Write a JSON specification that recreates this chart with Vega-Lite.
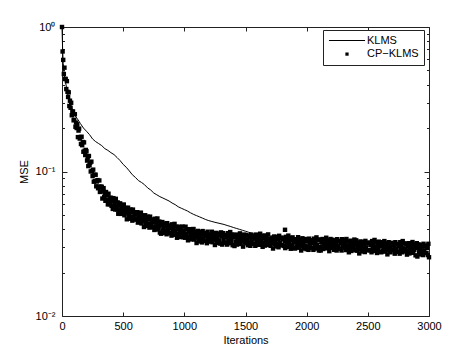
{
  "$schema": "https://vega.github.io/schema/vega-lite/v6.json",
  "width": 367,
  "height": 289,
  "autosize": {"type": "none"},
  "padding": {"left": 62, "top": 27, "right": 45, "bottom": 39},
  "background": "white",
  "config": {
    "view": {"stroke": null},
    "font": "Liberation Sans",
    "axis": {
      "grid": false,
      "domainColor": "#222222",
      "domainWidth": 1,
      "tickColor": "#222222",
      "tickWidth": 1,
      "labelFont": "Liberation Sans",
      "labelFontSize": 11,
      "labelColor": "black",
      "titleFont": "Liberation Sans",
      "titleFontSize": 11,
      "titleFontWeight": "normal",
      "titleColor": "black"
    }
  },
  "datasets": {
    "klms": [
      {"t":0,"v":1.0},{"t":5,"v":0.70},{"t":10,"v":0.56},{"t":15,"v":0.50},{"t":20,"v":0.46},{"t":30,"v":0.41},{"t":45,"v":0.35},{"t":60,"v":0.31},{"t":75,"v":0.28},{"t":100,"v":0.248},{"t":125,"v":0.232},{"t":150,"v":0.215},{"t":175,"v":0.20},{"t":200,"v":0.19},{"t":225,"v":0.18},{"t":250,"v":0.168},{"t":275,"v":0.161},{"t":300,"v":0.156},{"t":325,"v":0.151},{"t":350,"v":0.144},{"t":375,"v":0.14},{"t":400,"v":0.135},{"t":425,"v":0.131},{"t":450,"v":0.125},{"t":475,"v":0.119},{"t":500,"v":0.112},{"t":525,"v":0.107},{"t":550,"v":0.101},{"t":575,"v":0.095},{"t":600,"v":0.091},{"t":625,"v":0.0865},{"t":650,"v":0.084},{"t":675,"v":0.081},{"t":700,"v":0.077},{"t":725,"v":0.0745},{"t":750,"v":0.071},{"t":775,"v":0.069},{"t":800,"v":0.067},{"t":825,"v":0.0655},{"t":850,"v":0.064},{"t":875,"v":0.0625},{"t":900,"v":0.0605},{"t":925,"v":0.059},{"t":950,"v":0.057},{"t":975,"v":0.0557},{"t":1000,"v":0.0545},{"t":1025,"v":0.0533},{"t":1050,"v":0.0518},{"t":1075,"v":0.0505},{"t":1100,"v":0.0495},{"t":1125,"v":0.0485},{"t":1150,"v":0.0475},{"t":1175,"v":0.0465},{"t":1200,"v":0.0457},{"t":1225,"v":0.0451},{"t":1250,"v":0.0445},{"t":1275,"v":0.044},{"t":1300,"v":0.0435},{"t":1325,"v":0.043},{"t":1350,"v":0.0423},{"t":1375,"v":0.0417},{"t":1400,"v":0.041},{"t":1425,"v":0.0404},{"t":1450,"v":0.0398},{"t":1475,"v":0.0392},{"t":1500,"v":0.0386},{"t":1525,"v":0.038},{"t":1550,"v":0.0374},{"t":1575,"v":0.0368},{"t":1600,"v":0.0362},{"t":1625,"v":0.0357},{"t":1650,"v":0.0352},{"t":1675,"v":0.0348},{"t":1700,"v":0.0345},{"t":1750,"v":0.034},{"t":1800,"v":0.0337},{"t":1850,"v":0.0333},{"t":1900,"v":0.033},{"t":1950,"v":0.0327},{"t":2000,"v":0.0324},{"t":2100,"v":0.0318},{"t":2200,"v":0.0314},{"t":2300,"v":0.031},{"t":2400,"v":0.0307},{"t":2500,"v":0.0304},{"t":2600,"v":0.0301},{"t":2700,"v":0.0298},{"t":2800,"v":0.0295},{"t":2900,"v":0.0292},{"t":3000,"v":0.029}
    ],
    "cp": [
      {"t":0,"v":1.0},{"t":5,"v":0.677},{"t":10,"v":0.592},{"t":15,"v":0.473},{"t":20,"v":0.523},{"t":25,"v":0.437},{"t":30,"v":0.437},{"t":35,"v":0.372},{"t":40,"v":0.422},{"t":45,"v":0.356},{"t":50,"v":0.328},{"t":55,"v":0.353},{"t":60,"v":0.284},{"t":65,"v":0.309},{"t":70,"v":0.276},{"t":75,"v":0.299},{"t":80,"v":0.245},{"t":85,"v":0.26},{"t":90,"v":0.26},{"t":95,"v":0.226},{"t":100,"v":0.228},
      {"t":105,"v":0.249},{"t":110,"v":0.204},{"t":115,"v":0.218},{"t":120,"v":0.2},{"t":125,"v":0.212},{"t":130,"v":0.173},{"t":135,"v":0.192},{"t":140,"v":0.198},{"t":145,"v":0.169},{"t":150,"v":0.173},{"t":155,"v":0.155},{"t":160,"v":0.174},{"t":165,"v":0.152},{"t":170,"v":0.16},{"t":175,"v":0.137},{"t":180,"v":0.159},{"t":185,"v":0.139},{"t":190,"v":0.13},{"t":195,"v":0.141},{"t":200,"v":0.138},
      {"t":205,"v":0.119},{"t":210,"v":0.125},{"t":215,"v":0.109},{"t":220,"v":0.128},{"t":225,"v":0.111},{"t":230,"v":0.115},{"t":235,"v":0.1},{"t":240,"v":0.117},{"t":245,"v":0.101},{"t":250,"v":0.093},{"t":255,"v":0.103},{"t":260,"v":0.085},{"t":265,"v":0.095},{"t":270,"v":0.086},{"t":275,"v":0.095},{"t":280,"v":0.079},{"t":285,"v":0.0853},{"t":290,"v":0.0872},{"t":295,"v":0.0766},{"t":300,"v":0.0784},
      {"t":305,"v":0.0867},{"t":310,"v":0.0722},{"t":315,"v":0.0787},{"t":320,"v":0.0729},{"t":325,"v":0.0784},{"t":330,"v":0.065},{"t":335,"v":0.0734},{"t":340,"v":0.0767},{"t":345,"v":0.0665},{"t":350,"v":0.069},{"t":355,"v":0.0627},{"t":360,"v":0.0721},{"t":365,"v":0.0639},{"t":370,"v":0.0684},{"t":375,"v":0.0592},{"t":380,"v":0.0702},{"t":385,"v":0.0625},{"t":390,"v":0.0594},{"t":395,"v":0.0657},{"t":400,"v":0.0657},
      {"t":405,"v":0.0578},{"t":410,"v":0.0622},{"t":415,"v":0.0551},{"t":420,"v":0.0654},{"t":425,"v":0.0577},{"t":430,"v":0.0615},{"t":435,"v":0.0546},{"t":440,"v":0.0647},{"t":445,"v":0.0573},{"t":450,"v":0.0546},{"t":455,"v":0.0611},{"t":460,"v":0.051},{"t":465,"v":0.0581},{"t":470,"v":0.0538},{"t":475,"v":0.0602},{"t":480,"v":0.0509},{"t":485,"v":0.0556},{"t":490,"v":0.0574},{"t":495,"v":0.051},{"t":500,"v":0.0529},
      {"t":505,"v":0.0591},{"t":510,"v":0.0498},{"t":515,"v":0.0548},{"t":520,"v":0.0514},{"t":525,"v":0.0559},{"t":530,"v":0.0467},{"t":535,"v":0.0532},{"t":540,"v":0.0562},{"t":545,"v":0.0491},{"t":550,"v":0.0515},{"t":555,"v":0.0471},{"t":560,"v":0.0546},{"t":565,"v":0.0487},{"t":570,"v":0.0525},{"t":575,"v":0.0457},{"t":580,"v":0.0545},{"t":585,"v":0.0487},{"t":590,"v":0.0465},{"t":595,"v":0.0517},{"t":600,"v":0.0519},
      {"t":605,"v":0.0503},{"t":610,"v":0.0467},{"t":615,"v":0.0523},{"t":620,"v":0.0443},{"t":625,"v":0.0485},{"t":630,"v":0.0502},{"t":635,"v":0.0447},{"t":640,"v":0.0465},{"t":645,"v":0.0519},{"t":650,"v":0.0437},{"t":655,"v":0.0482},{"t":660,"v":0.0453},{"t":665,"v":0.0493},{"t":670,"v":0.0413},{"t":675,"v":0.0471},{"t":680,"v":0.0498},{"t":685,"v":0.0436},{"t":690,"v":0.0458},{"t":695,"v":0.042},{"t":700,"v":0.0487},
      {"t":705,"v":0.0435},{"t":710,"v":0.0469},{"t":715,"v":0.0409},{"t":720,"v":0.0487},{"t":725,"v":0.0436},{"t":730,"v":0.0416},{"t":735,"v":0.0463},{"t":740,"v":0.0465},{"t":745,"v":0.0411},{"t":750,"v":0.0444},{"t":755,"v":0.0394},{"t":760,"v":0.0471},{"t":765,"v":0.0417},{"t":770,"v":0.0446},{"t":775,"v":0.0397},{"t":780,"v":0.0473},{"t":785,"v":0.042},{"t":790,"v":0.0402},{"t":795,"v":0.045},{"t":800,"v":0.0378},
      {"t":805,"v":0.0443},{"t":810,"v":0.0371},{"t":815,"v":0.0423},{"t":820,"v":0.0447},{"t":825,"v":0.0391},{"t":830,"v":0.0411},{"t":835,"v":0.0376},{"t":840,"v":0.0437},{"t":845,"v":0.039},{"t":850,"v":0.0421},{"t":855,"v":0.0368},{"t":860,"v":0.0439},{"t":865,"v":0.0394},{"t":870,"v":0.0377},{"t":875,"v":0.042},{"t":880,"v":0.0423},{"t":885,"v":0.0374},{"t":890,"v":0.0405},{"t":895,"v":0.036},{"t":900,"v":0.0431},
      {"t":905,"v":0.0382},{"t":910,"v":0.0409},{"t":915,"v":0.0365},{"t":920,"v":0.0434},{"t":925,"v":0.0386},{"t":930,"v":0.037},{"t":935,"v":0.0415},{"t":940,"v":0.0348},{"t":945,"v":0.0398},{"t":950,"v":0.037},{"t":955,"v":0.0415},{"t":960,"v":0.0352},{"t":965,"v":0.0386},{"t":970,"v":0.04},{"t":975,"v":0.0357},{"t":980,"v":0.0371},{"t":985,"v":0.0416},{"t":990,"v":0.0351},{"t":995,"v":0.0387},{"t":1000,"v":0.0364},
      {"t":1005,"v":0.0348},{"t":1010,"v":0.0415},{"t":1015,"v":0.0369},{"t":1020,"v":0.0353},{"t":1025,"v":0.0398},{"t":1030,"v":0.0334},{"t":1035,"v":0.0382},{"t":1040,"v":0.0355},{"t":1045,"v":0.0399},{"t":1050,"v":0.0339},{"t":1055,"v":0.0372},{"t":1060,"v":0.0385},{"t":1065,"v":0.0344},{"t":1070,"v":0.0358},{"t":1075,"v":0.04},{"t":1080,"v":0.0338},{"t":1085,"v":0.0373},{"t":1090,"v":0.035},{"t":1095,"v":0.0382},{"t":1100,"v":0.032},
      {"t":1105,"v":0.0366},{"t":1110,"v":0.0388},{"t":1115,"v":0.034},{"t":1120,"v":0.0358},{"t":1125,"v":0.0328},{"t":1130,"v":0.0382},{"t":1135,"v":0.0342},{"t":1140,"v":0.037},{"t":1145,"v":0.0323},{"t":1150,"v":0.0387},{"t":1155,"v":0.0347},{"t":1160,"v":0.0333},{"t":1165,"v":0.0371},{"t":1170,"v":0.0374},{"t":1175,"v":0.0331},{"t":1180,"v":0.0359},{"t":1185,"v":0.0319},{"t":1190,"v":0.0383},{"t":1195,"v":0.034},{"t":1200,"v":0.0364},
      {"t":1205,"v":0.0351},{"t":1210,"v":0.0365},{"t":1215,"v":0.0327},{"t":1220,"v":0.0341},{"t":1225,"v":0.0383},{"t":1230,"v":0.0324},{"t":1235,"v":0.0358},{"t":1240,"v":0.0338},{"t":1245,"v":0.0369},{"t":1250,"v":0.031},{"t":1255,"v":0.0355},{"t":1260,"v":0.0376},{"t":1265,"v":0.0331},{"t":1270,"v":0.0348},{"t":1275,"v":0.032},{"t":1280,"v":0.0372},{"t":1285,"v":0.0334},{"t":1290,"v":0.0362},{"t":1295,"v":0.0317},{"t":1300,"v":0.0379},
      {"t":1305,"v":0.0357},{"t":1310,"v":0.0312},{"t":1315,"v":0.0374},{"t":1320,"v":0.0336},{"t":1325,"v":0.0322},{"t":1330,"v":0.036},{"t":1335,"v":0.0364},{"t":1340,"v":0.0322},{"t":1345,"v":0.035},{"t":1350,"v":0.0312},{"t":1355,"v":0.0374},{"t":1360,"v":0.0333},{"t":1365,"v":0.0357},{"t":1370,"v":0.0319},{"t":1375,"v":0.0381},{"t":1380,"v":0.034},{"t":1385,"v":0.0326},{"t":1390,"v":0.0367},{"t":1395,"v":0.0309},{"t":1400,"v":0.0353},
      {"t":1405,"v":0.0363},{"t":1410,"v":0.0305},{"t":1415,"v":0.0349},{"t":1420,"v":0.0325},{"t":1425,"v":0.0366},{"t":1430,"v":0.0312},{"t":1435,"v":0.0342},{"t":1440,"v":0.0356},{"t":1445,"v":0.0319},{"t":1450,"v":0.0332},{"t":1455,"v":0.0373},{"t":1460,"v":0.0315},{"t":1465,"v":0.0349},{"t":1470,"v":0.0329},{"t":1475,"v":0.0359},{"t":1480,"v":0.0302},{"t":1485,"v":0.0346},{"t":1490,"v":0.0366},{"t":1495,"v":0.0322},{"t":1500,"v":0.0339},
      {"t":1505,"v":0.0363},{"t":1510,"v":0.0319},{"t":1515,"v":0.0336},{"t":1520,"v":0.0309},{"t":1525,"v":0.036},{"t":1530,"v":0.0323},{"t":1535,"v":0.0349},{"t":1540,"v":0.0306},{"t":1545,"v":0.0366},{"t":1550,"v":0.0329},{"t":1555,"v":0.0316},{"t":1560,"v":0.0353},{"t":1565,"v":0.0356},{"t":1570,"v":0.0316},{"t":1575,"v":0.0343},{"t":1580,"v":0.0306},{"t":1585,"v":0.0366},{"t":1590,"v":0.0326},{"t":1595,"v":0.0349},{"t":1600,"v":0.0312},
      {"t":1605,"v":0.0324},{"t":1610,"v":0.0347},{"t":1615,"v":0.0311},{"t":1620,"v":0.0371},{"t":1625,"v":0.0331},{"t":1630,"v":0.0317},{"t":1635,"v":0.0357},{"t":1640,"v":0.0301},{"t":1645,"v":0.0344},{"t":1650,"v":0.0321},{"t":1655,"v":0.0361},{"t":1660,"v":0.0307},{"t":1665,"v":0.0337},{"t":1670,"v":0.0351},{"t":1675,"v":0.0314},{"t":1680,"v":0.0327},{"t":1685,"v":0.0367},{"t":1690,"v":0.0311},{"t":1695,"v":0.0344},{"t":1700,"v":0.0324},
      {"t":1705,"v":0.0306},{"t":1710,"v":0.0339},{"t":1715,"v":0.0319},{"t":1720,"v":0.0349},{"t":1725,"v":0.0293},{"t":1730,"v":0.0336},{"t":1735,"v":0.0355},{"t":1740,"v":0.0313},{"t":1745,"v":0.0329},{"t":1750,"v":0.0303},{"t":1755,"v":0.0352},{"t":1760,"v":0.0316},{"t":1765,"v":0.0342},{"t":1770,"v":0.0299},{"t":1775,"v":0.0359},{"t":1780,"v":0.0322},{"t":1785,"v":0.0309},{"t":1790,"v":0.0345},{"t":1795,"v":0.0349},{"t":1800,"v":0.0309},
      {"t":1805,"v":0.034},{"t":1810,"v":0.0343},{"t":1815,"v":0.0305},{"t":1820,"v":0.033},{"t":1823,"v":0.0395},{"t":1825,"v":0.0295},{"t":1830,"v":0.0353},{"t":1835,"v":0.0314},{"t":1840,"v":0.0337},{"t":1845,"v":0.0301},{"t":1850,"v":0.036},{"t":1855,"v":0.0321},{"t":1860,"v":0.0308},{"t":1865,"v":0.0347},{"t":1870,"v":0.0292},{"t":1875,"v":0.0334},{"t":1880,"v":0.0311},{"t":1885,"v":0.035},{"t":1890,"v":0.0298},{"t":1895,"v":0.0327},{"t":1900,"v":0.034},
      {"t":1905,"v":0.0293},{"t":1910,"v":0.0322},{"t":1915,"v":0.0335},{"t":1920,"v":0.03},{"t":1925,"v":0.0313},{"t":1930,"v":0.0351},{"t":1935,"v":0.0297},{"t":1940,"v":0.0329},{"t":1945,"v":0.0309},{"t":1950,"v":0.0338},{"t":1955,"v":0.0284},{"t":1960,"v":0.0325},{"t":1965,"v":0.0345},{"t":1970,"v":0.0303},{"t":1975,"v":0.0319},{"t":1980,"v":0.0293},{"t":1985,"v":0.0341},{"t":1990,"v":0.0306},{"t":1995,"v":0.0332},{"t":2000,"v":0.029},
      {"t":2005,"v":0.0302},{"t":2010,"v":0.0328},{"t":2015,"v":0.0287},{"t":2020,"v":0.0343},{"t":2025,"v":0.0309},{"t":2030,"v":0.0296},{"t":2035,"v":0.0331},{"t":2040,"v":0.0334},{"t":2045,"v":0.0296},{"t":2050,"v":0.0321},{"t":2055,"v":0.0287},{"t":2060,"v":0.0343},{"t":2065,"v":0.0306},{"t":2070,"v":0.0328},{"t":2075,"v":0.0293},{"t":2080,"v":0.035},{"t":2085,"v":0.0312},{"t":2090,"v":0.0299},{"t":2095,"v":0.0337},{"t":2100,"v":0.0284},
      {"t":2105,"v":0.03},{"t":2110,"v":0.0338},{"t":2115,"v":0.0284},{"t":2120,"v":0.0325},{"t":2125,"v":0.0303},{"t":2130,"v":0.0341},{"t":2135,"v":0.0291},{"t":2140,"v":0.0319},{"t":2145,"v":0.0332},{"t":2150,"v":0.0297},{"t":2155,"v":0.031},{"t":2160,"v":0.0348},{"t":2165,"v":0.0294},{"t":2170,"v":0.0325},{"t":2175,"v":0.0307},{"t":2180,"v":0.0335},{"t":2185,"v":0.0281},{"t":2190,"v":0.0322},{"t":2195,"v":0.0341},{"t":2200,"v":0.03},
      {"t":2205,"v":0.0318},{"t":2210,"v":0.0337},{"t":2215,"v":0.0296},{"t":2220,"v":0.0312},{"t":2225,"v":0.0287},{"t":2230,"v":0.0334},{"t":2235,"v":0.03},{"t":2240,"v":0.0324},{"t":2245,"v":0.0284},{"t":2250,"v":0.034},{"t":2255,"v":0.0306},{"t":2260,"v":0.0293},{"t":2265,"v":0.0328},{"t":2270,"v":0.0331},{"t":2275,"v":0.0293},{"t":2280,"v":0.0318},{"t":2285,"v":0.0284},{"t":2290,"v":0.034},{"t":2295,"v":0.0303},{"t":2300,"v":0.0324},
      {"t":2305,"v":0.0335},{"t":2310,"v":0.0298},{"t":2315,"v":0.0319},{"t":2320,"v":0.0286},{"t":2325,"v":0.0341},{"t":2330,"v":0.0304},{"t":2335,"v":0.0292},{"t":2340,"v":0.0328},{"t":2345,"v":0.0276},{"t":2350,"v":0.0316},{"t":2355,"v":0.0295},{"t":2360,"v":0.0332},{"t":2365,"v":0.0282},{"t":2370,"v":0.031},{"t":2375,"v":0.0322},{"t":2380,"v":0.0289},{"t":2385,"v":0.0301},{"t":2390,"v":0.0338},{"t":2395,"v":0.0286},{"t":2400,"v":0.0316},
      {"t":2405,"v":0.0334},{"t":2410,"v":0.0283},{"t":2415,"v":0.0313},{"t":2420,"v":0.0295},{"t":2425,"v":0.0322},{"t":2430,"v":0.0271},{"t":2435,"v":0.031},{"t":2440,"v":0.0328},{"t":2445,"v":0.0289},{"t":2450,"v":0.0304},{"t":2455,"v":0.028},{"t":2460,"v":0.0325},{"t":2465,"v":0.0292},{"t":2470,"v":0.0316},{"t":2475,"v":0.0277},{"t":2480,"v":0.0331},{"t":2485,"v":0.0298},{"t":2490,"v":0.0286},{"t":2495,"v":0.0319},{"t":2500,"v":0.0322},
      {"t":2505,"v":0.0285},{"t":2510,"v":0.0318},{"t":2515,"v":0.0321},{"t":2520,"v":0.0285},{"t":2525,"v":0.0309},{"t":2530,"v":0.0276},{"t":2535,"v":0.033},{"t":2540,"v":0.0294},{"t":2545,"v":0.0315},{"t":2550,"v":0.0282},{"t":2555,"v":0.0336},{"t":2560,"v":0.03},{"t":2565,"v":0.0288},{"t":2570,"v":0.0324},{"t":2575,"v":0.0273},{"t":2580,"v":0.0312},{"t":2585,"v":0.0291},{"t":2590,"v":0.0327},{"t":2595,"v":0.0279},{"t":2600,"v":0.0306},
      {"t":2605,"v":0.0324},{"t":2610,"v":0.0276},{"t":2615,"v":0.0303},{"t":2620,"v":0.0315},{"t":2625,"v":0.0282},{"t":2630,"v":0.0294},{"t":2635,"v":0.033},{"t":2640,"v":0.0279},{"t":2645,"v":0.0309},{"t":2650,"v":0.0291},{"t":2655,"v":0.0318},{"t":2660,"v":0.0267},{"t":2665,"v":0.0306},{"t":2670,"v":0.0324},{"t":2675,"v":0.0285},{"t":2680,"v":0.03},{"t":2685,"v":0.0276},{"t":2690,"v":0.0321},{"t":2695,"v":0.0288},{"t":2700,"v":0.0312},
      {"t":2705,"v":0.0318},{"t":2710,"v":0.0285},{"t":2715,"v":0.0309},{"t":2720,"v":0.027},{"t":2725,"v":0.0324},{"t":2730,"v":0.0291},{"t":2735,"v":0.0279},{"t":2740,"v":0.0312},{"t":2745,"v":0.0315},{"t":2750,"v":0.0279},{"t":2755,"v":0.0303},{"t":2760,"v":0.027},{"t":2765,"v":0.0324},{"t":2770,"v":0.0288},{"t":2775,"v":0.0309},{"t":2780,"v":0.0276},{"t":2785,"v":0.033},{"t":2790,"v":0.0294},{"t":2795,"v":0.0282},{"t":2800,"v":0.0318},
      {"t":2805,"v":0.0292},{"t":2810,"v":0.028},{"t":2815,"v":0.0316},{"t":2820,"v":0.0266},{"t":2825,"v":0.0304},{"t":2830,"v":0.0283},{"t":2835,"v":0.0319},{"t":2840,"v":0.0271},{"t":2845,"v":0.0298},{"t":2850,"v":0.031},{"t":2855,"v":0.0277},{"t":2860,"v":0.0289},{"t":2865,"v":0.0325},{"t":2870,"v":0.0274},{"t":2875,"v":0.0304},{"t":2880,"v":0.0286},{"t":2885,"v":0.0313},{"t":2890,"v":0.0263},{"t":2895,"v":0.0301},{"t":2900,"v":0.0319},
      {"t":2905,"v":0.0258},{"t":2910,"v":0.0296},{"t":2915,"v":0.0313},{"t":2920,"v":0.0276},{"t":2925,"v":0.029},{"t":2930,"v":0.0267},{"t":2935,"v":0.031},{"t":2940,"v":0.0278},{"t":2945,"v":0.0302},{"t":2950,"v":0.0264},{"t":2955,"v":0.0316},{"t":2960,"v":0.0284},{"t":2965,"v":0.0273},{"t":2970,"v":0.0305},{"t":2975,"v":0.0307},{"t":2980,"v":0.0273},{"t":2985,"v":0.0296},{"t":2990,"v":0.0264},{"t":2995,"v":0.0316},{"t":3000,"v":0.0255}
    ]
  },
  "layer": [
    {
      "data": {"name": "klms"},
      "mark": {"type": "line", "color": "black", "strokeWidth": 1},
      "encoding": {
        "x": {
          "field": "t", "type": "quantitative",
          "scale": {"domain": [0, 3000], "nice": false, "zero": false},
          "axis": {
            "orient": "bottom",
            "values": [0, 500, 1000, 1500, 2000, 2500, 3000],
            "format": "d",
            "tickSize": -4,
            "labelPadding": 8,
            "labelFlush": false,
            "title": "Iterations",
            "titlePadding": 3
          }
        },
        "y": {
          "field": "v", "type": "quantitative",
          "scale": {"type": "log", "domain": [0.01, 1], "nice": false},
          "axis": {
            "orient": "left",
            "values": [0.01,0.02,0.03,0.04,0.05,0.06,0.07,0.08,0.09,0.1,0.2,0.3,0.4,0.5,0.6,0.7,0.8,0.9,1],
            "labelExpr": "datum.value == 1 ? '10⁰' : datum.value == 0.1 ? '10⁻¹' : datum.value == 0.01 ? '10⁻²' : ''",
            "tickSize": {"condition": {"test": "datum.value == 1 || datum.value == 0.1 || datum.value == 0.01", "value": -5}, "value": -2.5},
            "labelPadding": 12,
            "labelFlush": false,
            "labelOverlap": false,
            "title": "MSE",
            "titlePadding": 6
          }
        }
      }
    },
    {
      "data": {"name": "cp"},
      "mark": {"type": "point", "filled": true, "color": "black", "opacity": 1, "size": 24},
      "encoding": {
        "x": {
          "field": "t", "type": "quantitative",
          "scale": {"domain": [0, 3000], "nice": false, "zero": false},
          "axis": {"orient": "top", "values": [0, 500, 1000, 1500, 2000, 2500, 3000], "tickSize": -4, "labels": false, "title": null}
        },
        "y": {
          "field": "v", "type": "quantitative",
          "scale": {"type": "log", "domain": [0.01, 1], "nice": false},
          "axis": {
            "orient": "right",
            "values": [0.01,0.02,0.03,0.04,0.05,0.06,0.07,0.08,0.09,0.1,0.2,0.3,0.4,0.5,0.6,0.7,0.8,0.9,1],
            "tickSize": {"condition": {"test": "datum.value == 1 || datum.value == 0.1 || datum.value == 0.01", "value": -5}, "value": -2.5},
            "labels": false,
            "title": null
          }
        },
        "shape": {
          "datum": "CP−KLMS", "type": "nominal",
          "scale": {"domain": ["KLMS", "CP−KLMS"], "range": ["M-10,-0.28L10,-0.28L10,0.28L-10,0.28Z", "M-0.9,-0.9L0.9,-0.9L0.9,0.9L-0.9,0.9Z"]},
          "legend": {
            "orient": "none", "legendX": 261, "legendY": 3,
            "title": null,
            "strokeColor": "#222222", "fillColor": "white",
            "padding": 5, "symbolOffset": 13.5, "symbolSize": 13,
            "symbolStrokeColor": "transparent", "symbolStrokeWidth": 0, "symbolFillColor": "black",
            "labelFont": "Liberation Sans", "labelFontSize": 11, "labelColor": "black",
            "labelOffset": 14.5, "rowPadding": 1.6
          }
        }
      }
    }
  ],
  "resolve": {"axis": {"x": "independent", "y": "independent"}}
}
